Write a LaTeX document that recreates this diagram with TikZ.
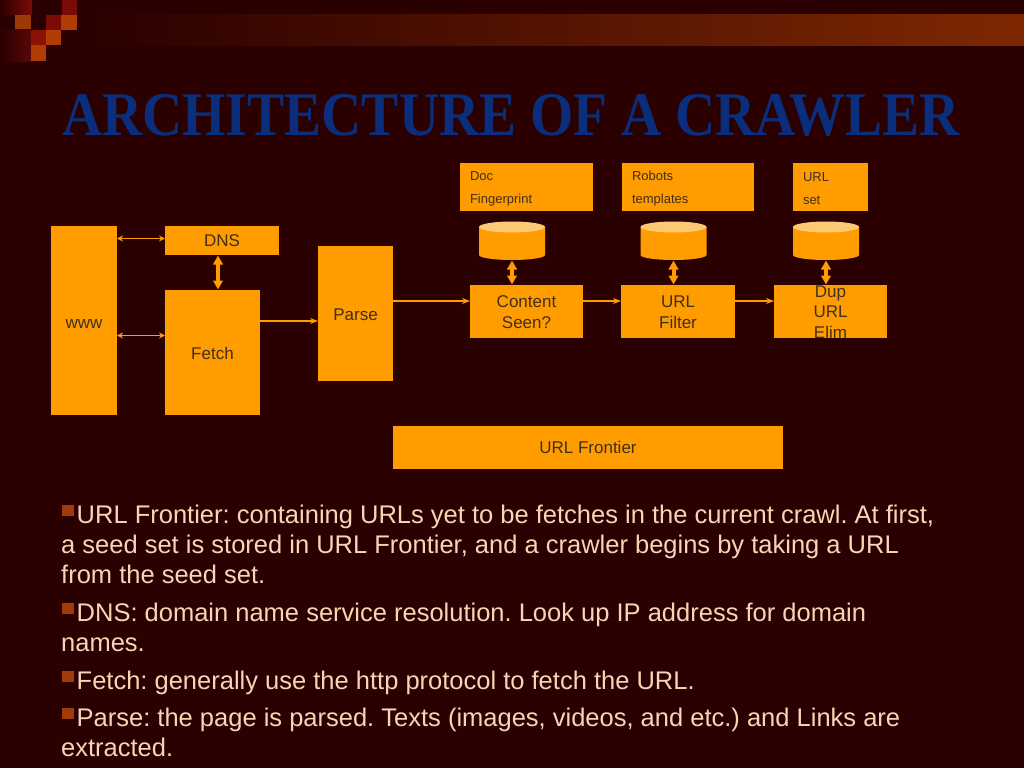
\documentclass[tikz,border=0pt]{standalone}
\usepackage{fontspec}
\setmainfont{Liberation Sans}
\newfontfamily\titlefont[FakeStretch=0.897]{Liberation Serif}
\usetikzlibrary{arrows.meta,calc}
\definecolor{bgdark}{HTML}{2B0000}
\definecolor{boxorange}{HTML}{FF9C00}
\definecolor{boxtext}{HTML}{40301A}
\definecolor{bodytext}{HTML}{FBD3B5}
\definecolor{titleblue}{HTML}{0A2E7C}
\definecolor{bulletc}{HTML}{A03C08}
\definecolor{cyltop}{HTML}{FFC873}
\definecolor{bandend}{HTML}{7E2803}
\definecolor{pxred}{HTML}{7A0C05}
\definecolor{pxredb}{HTML}{8C1004}
\definecolor{pxorange}{HTML}{B23C06}
\definecolor{pxbrown}{HTML}{9A3A05}
\definecolor{pxfade}{HTML}{5A0606}
\newcommand{\lowerby}[1]{\rule{0pt}{#1}}
\newcommand{\drawcyl}[1]{%
  \fill[boxorange] ([yshift=-6pt]#1.north west) -- ([yshift=5pt]#1.south west)
    arc[start angle=180,end angle=360,x radius=33pt,y radius=5pt]
    -- ([yshift=-6pt]#1.north east) -- cycle;
  \fill[cyltop] ([yshift=-6pt]#1.north) ellipse[x radius=33pt,y radius=5.5pt];}
\tikzset{
  x=1pt,y=-1pt,
  boxnode/.style={fill=boxorange,draw=none,inner sep=0pt,outer sep=0pt,text=boxtext,align=center,font=\fontsize{17}{20.5}\selectfont},
  notebox/.style={boxnode,align=left,font=\fontsize{13}{23.5}\selectfont},
  cylbody/.style={inner sep=0pt,outer sep=0pt,minimum width=66pt,minimum height=39pt},
  thinarrow/.style={draw=boxorange,line width=1.8pt,-{Stealth[length=8pt,width=6pt]}},
  thinboth/.style={draw=boxorange,line width=1.5pt,{Stealth[length=6pt,width=6pt]}-{Stealth[length=6pt,width=6pt]}},
  fatboth/.style={draw=boxorange,line width=4pt,{Triangle[length=9pt,width=9.5pt]}-{Triangle[length=9pt,width=9.5pt]},shorten <=0.5pt,shorten >=0.5pt},
  bodyline/.style={anchor=base west,inner sep=0pt,text=bodytext,font=\fontsize{25.5}{30}\selectfont},
  bulletmark/.style={fill=bulletc,inner sep=0pt,minimum size=11.5pt,outer sep=0pt},
}
\begin{document}
\frenchspacing
\begin{tikzpicture}
\useasboundingbox (0,0) rectangle (1024,768);
\fill[bgdark] (0,0) rectangle (1024,768);
% header band
\shade[left color=bgdark,right color=bandend] (90,15) rectangle (1024,45.5);
% corner pixels
\shade[left color=bgdark,right color=pxred] (0,0) rectangle (32,15);
\fill[pxred] (62,0) rectangle (77,15);
\fill[pxbrown] (15,15) rectangle (31,30);
\fill[pxred] (46,15) rectangle (61,30);
\fill[pxorange] (61,15) rectangle (77,30);
\shade[left color=bgdark,right color=pxfade] (0,30) rectangle (31,61);
\fill[pxredb] (31,30) rectangle (46,45);
\fill[pxorange] (46,30) rectangle (61,45);
\fill[pxorange] (31,45) rectangle (46,61);
% title
\node[anchor=base west,inner sep=0pt,text=titleblue,font=\titlefont\bfseries\fontsize{62}{70}\selectfont] (title) at (62,135)
  {ARCHITECTURE OF A CRAWLER};
% boxes
\node[boxnode,minimum width=66pt,minimum height=189pt] (www) at (84,320.5) {\lowerby{16pt}www};
\node[boxnode,minimum width=114pt,minimum height=29pt] (dns) at (222,240.5) {DNS};
\node[boxnode,minimum width=95pt,minimum height=125pt] (fetch) at (212.5,352.5) {\lowerby{14pt}Fetch};
\node[boxnode,minimum width=75pt,minimum height=135pt] (parse) at (355.5,313.5) {\lowerby{14pt}Parse};
\node[boxnode,minimum width=113pt,minimum height=53pt] (content) at (526.5,311.5) {\lowerby{13pt}Content\\Seen?};
\node[boxnode,minimum width=114pt,minimum height=53pt] (filter) at (678,311.5) {\lowerby{13pt}URL\\Filter};
\node[boxnode,minimum width=113pt,minimum height=53pt] (dup) at (830.5,311.5) {\raisebox{-6.5pt}[0pt][0pt]{\begin{tabular}{@{}c@{}}Dup\\URL\\Elim\end{tabular}}};
\node[boxnode,minimum width=390pt,minimum height=43pt] (frontier) at (588,447.5) {URL Frontier};
\node[notebox,minimum width=133pt,minimum height=48pt,text width=113pt] (doc) at (526.5,187) {\lowerby{12.4pt}Doc\\Fingerprint};
\node[notebox,minimum width=132pt,minimum height=48pt,text width=112pt] (robots) at (688,187) {\lowerby{12.4pt}Robots\\templates};
\node[notebox,minimum width=75pt,minimum height=48pt,text width=55pt] (urlset) at (830.5,187) {\lowerby{12.4pt}URL\\set};
% cylinders
\node[cylbody] (cyla) at (512,240.5) {};
\node[cylbody] (cylb) at (673.5,240.5) {};
\node[cylbody] (cylc) at (826,240.5) {};
\drawcyl{cyla}
\drawcyl{cylb}
\drawcyl{cylc}
% connector rows
\coordinate (rowa) at (0,238.5);
\coordinate (rowb) at (0,335.5);
\coordinate (rowc) at (0,321);
\coordinate (rowd) at (0,301);
\coordinate (cola) at (218,0);
% connectors
\draw[thinboth] (www.east |- rowa) -- (dns.west |- rowa);
\draw[thinboth] (www.east |- rowb) -- (fetch.west |- rowb);
\draw[fatboth] (cola |- fetch.north) -- (cola |- dns.south);
\draw[thinarrow] (fetch.east |- rowc) -- (parse.west |- rowc);
\draw[thinarrow] (parse.east |- rowd) -- (content.west |- rowd);
\draw[thinarrow] (content.east |- rowd) -- (filter.west |- rowd);
\draw[thinarrow] (filter.east |- rowd) -- (dup.west |- rowd);
\draw[fatboth] (cyla.south) -- (cyla.south |- content.north);
\draw[fatboth] (cylb.south) -- (cylb.south |- filter.north);
\draw[fatboth] (cylc.south) -- (cylc.south |- dup.north);
% body text
\node[bulletmark] (b1) at (68,510.5) {};
\node[bodyline] (t1) at (76.5,523) {URL Frontier: containing URLs yet to be fetches in the current crawl. At first,};
\node[bodyline] (t2) at (61,553) {a seed set is stored in URL Frontier, and a crawler begins by taking a URL};
\node[bodyline] (t3) at (61,583) {from the seed set.};
\node[bulletmark] (b2) at (68,608.5) {};
\node[bodyline] (t4) at (76.5,621) {DNS: domain name service resolution. Look up IP address for domain};
\node[bodyline] (t5) at (61,651) {names.};
\node[bulletmark] (b3) at (68,676.5) {};
\node[bodyline] (t6) at (76.5,689) {Fetch: generally use the http protocol to fetch the URL.};
\node[bulletmark] (b4) at (68,713.5) {};
\node[bodyline] (t7) at (76.5,726) {Parse: the page is parsed. Texts (images, videos, and etc.) and Links are};
\node[bodyline] (t8) at (61,756) {extracted.};
\end{tikzpicture}
\end{document}
